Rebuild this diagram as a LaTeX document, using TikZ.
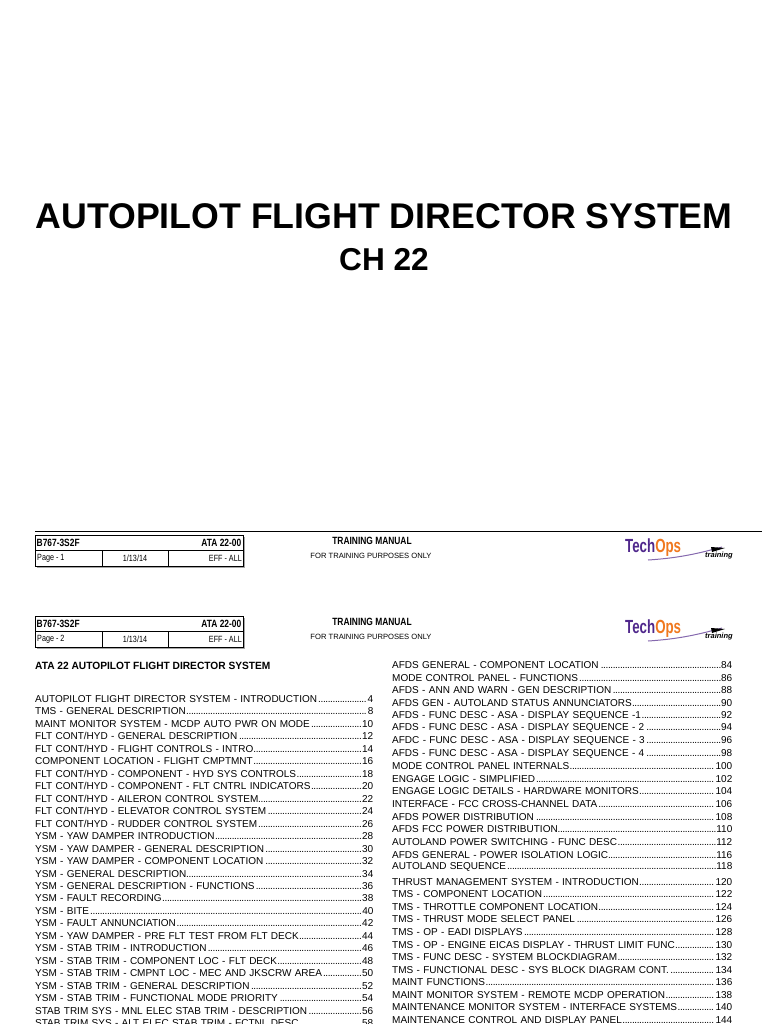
\documentclass[tikz,border=0pt]{standalone}
\usepackage{fontspec}
\setmainfont{Liberation Sans}
\definecolor{tpurple}{RGB}{80,40,140}
\definecolor{torange}{RGB}{240,120,30}
\newcommand{\lead}{\leaders\hbox to 2.4pt{\hss.\hss}\hfill}
\begin{document}
\begin{tikzpicture}[x=1pt,y=-1pt,
  toc/.style={anchor=west,inner sep=0pt,font=\fontsize{10}{11}\selectfont,align=left},
  hdr/.style={inner sep=0pt,font=\fontsize{10.5}{11}\selectfont\bfseries},
  small/.style={inner sep=0pt,font=\fontsize{9}{10}\selectfont}]
\useasboundingbox (0,0) rectangle (768,1024);
\node[inner sep=0pt,font=\fontsize{31}{36}\selectfont\bfseries] (t1) at (384,216) {\resizebox{697pt}{!}{AUTOPILOT FLIGHT DIRECTOR SYSTEM}};
\node[inner sep=0pt,font=\fontsize{31}{36}\selectfont\bfseries] (t2) at (384,260) {\scalebox{1.02}{CH 22}};
\draw[line width=0.9pt] (35,531) -- (762,531);
\foreach \yy/\pg [count=\i] in {535/1,616/2}{
  \fill[gray!70] (37,\yy+2) rectangle (244.5,\yy+32.5);
  \draw[line width=0.8pt,fill=white] (35,\yy) rectangle (243,\yy+31);
  \draw[line width=0.6pt] (35,\yy+15.5) -- (243,\yy+15.5);
  \draw[line width=0.6pt] (102,\yy+15.5) -- (102,\yy+31) (168,\yy+15.5) -- (168,\yy+31);
  \node[hdr,anchor=west] at (36.5,\yy+8) {\scalebox{0.8}[1]{B767-3S2F}};
  \node[hdr,anchor=east] at (241.5,\yy+8) {\scalebox{0.8}[1]{ATA 22-00}};
  \node[small,anchor=west] at (37,\yy+23.5) {\scalebox{0.8}[1]{Page - \pg}};
  \node[small] at (135,\yy+23.5) {\scalebox{0.8}[1]{1/13/14}};
  \node[small,anchor=east] at (242,\yy+23.5) {\scalebox{0.8}[1]{EFF - ALL}};
  \node[hdr,font=\fontsize{10.5}{11}\selectfont\bfseries] at (372,\yy+6) {\scalebox{0.8}[1]{TRAINING MANUAL}};
  \node[small,font=\fontsize{7.6}{8}\selectfont] at (371,\yy+21) {FOR TRAINING PURPOSES ONLY};
  \node[inner sep=0pt,font=\fontsize{19}{19}\selectfont\bfseries,anchor=west] at (625,\yy+13) {\scalebox{0.7}[1]{\textcolor{tpurple}{Tech}\textcolor{torange}{Ops}}};
  \draw[tpurple!70,line width=1pt] (648,\yy+25) .. controls (680,\yy+23) and (700,\yy+18) .. (722,\yy+12);
  \fill[black] (711,\yy+12) -- (725,\yy+13) -- (712,\yy+17) -- cycle;
  \node[small,font=\fontsize{7.5}{8}\selectfont\itshape\bfseries,anchor=west] at (705,\yy+21) {training};
}
\node[inner sep=0pt,anchor=west,font=\fontsize{10.5}{11}\selectfont\bfseries] (h) at (35,666) {\scalebox{0.97}[1]{ATA 22 AUTOPILOT FLIGHT DIRECTOR SYSTEM}};
\foreach \txt/\pg [count=\i from 0] in {
{AUTOPILOT FLIGHT DIRECTOR SYSTEM - INTRODUCTION}/4,
{TMS - GENERAL DESCRIPTION}/8,
{MAINT MONITOR SYSTEM - MCDP AUTO PWR ON MODE}/10,
{FLT CONT/HYD - GENERAL DESCRIPTION}/12,
{FLT CONT/HYD - FLIGHT CONTROLS - INTRO}/14,
{COMPONENT LOCATION - FLIGHT CMPTMNT}/16,
{FLT CONT/HYD - COMPONENT - HYD SYS CONTROLS}/18,
{FLT CONT/HYD - COMPONENT - FLT CNTRL INDICATORS}/20,
{FLT CONT/HYD - AILERON CONTROL SYSTEM}/22,
{FLT CONT/HYD - ELEVATOR CONTROL SYSTEM}/24,
{FLT CONT/HYD - RUDDER CONTROL SYSTEM}/26,
{YSM - YAW DAMPER INTRODUCTION}/28,
{YSM - YAW DAMPER - GENERAL DESCRIPTION}/30,
{YSM - YAW DAMPER - COMPONENT LOCATION}/32,
{YSM - GENERAL DESCRIPTION}/34,
{YSM - GENERAL DESCRIPTION - FUNCTIONS}/36,
{YSM - FAULT RECORDING}/38,
{YSM - BITE}/40,
{YSM - FAULT ANNUNCIATION}/42,
{YSM - YAW DAMPER - PRE FLT TEST FROM FLT DECK}/44,
{YSM - STAB TRIM - INTRODUCTION}/46,
{YSM - STAB TRIM - COMPONENT LOC - FLT DECK}/48,
{YSM - STAB TRIM - CMPNT LOC - MEC AND JKSCRW AREA}/50,
{YSM - STAB TRIM - GENERAL DESCRIPTION}/52,
{YSM - STAB TRIM - FUNCTIONAL MODE PRIORITY}/54,
{STAB TRIM SYS - MNL ELEC STAB TRIM -  DESCRIPTION}/56,
{STAB TRIM SYS - ALT ELEC STAB TRIM - FCTNL DESC}/58}{
  \node[toc,text width=338pt] (l\i) at (35,{699+12.47*\i}) {\txt\lead\pg};
}
\foreach \txt/\pg [count=\i from 0] in {
{AFDS GENERAL - COMPONENT LOCATION}/84,
{MODE CONTROL PANEL - FUNCTIONS}/86,
{AFDS - ANN AND WARN - GEN DESCRIPTION}/88,
{AFDS GEN - AUTOLAND STATUS ANNUNCIATORS}/90,
{AFDS - FUNC DESC - ASA - DISPLAY SEQUENCE -1}/92,
{AFDS - FUNC DESC - ASA - DISPLAY SEQUENCE - 2}/94,
{AFDC - FUNC DESC - ASA - DISPLAY SEQUENCE - 3}/96,
{AFDS - FUNC DESC - ASA - DISPLAY SEQUENCE - 4}/98,
{MODE CONTROL PANEL INTERNALS}/100,
{ENGAGE LOGIC - SIMPLIFIED}/102,
{ENGAGE LOGIC DETAILS - HARDWARE MONITORS}/104,
{INTERFACE - FCC CROSS-CHANNEL DATA}/106,
{AFDS POWER DISTRIBUTION}/108,
{AFDS FCC POWER DISTRIBUTION}/110,
{AUTOLAND POWER SWITCHING - FUNC DESC}/112,
{AFDS GENERAL - POWER ISOLATION LOGIC}/116,
{AUTOLAND SEQUENCE}/118}{
  \node[toc,text width=340pt] (r\i) at (392,{665+12.65*\i}) {\txt\lead\pg};
}
\foreach \txt/\pg [count=\i from 0] in {
{THRUST MANAGEMENT SYSTEM - INTRODUCTION}/120,
{TMS - COMPONENT LOCATION}/122,
{TMS - THROTTLE COMPONENT LOCATION}/124,
{TMS - THRUST MODE SELECT PANEL}/126,
{TMS - OP - EADI DISPLAYS}/128,
{TMS - OP - ENGINE EICAS DISPLAY - THRUST LIMIT FUNC}/130,
{TMS - FUNC DESC - SYSTEM BLOCKDIAGRAM}/132,
{TMS - FUNCTIONAL DESC - SYS BLOCK DIAGRAM CONT.}/134,
{MAINT FUNCTIONS}/136,
{MAINT MONITOR SYSTEM - REMOTE MCDP OPERATION}/138,
{MAINTENANCE MONITOR SYSTEM - INTERFACE SYSTEMS}/140,
{MAINTENANCE CONTROL AND DISPLAY PANEL}/144}{
  \node[toc,text width=340pt] (s\i) at (392,{881.7+12.57*\i}) {\txt\lead\pg};
}
\end{tikzpicture}
\end{document}
